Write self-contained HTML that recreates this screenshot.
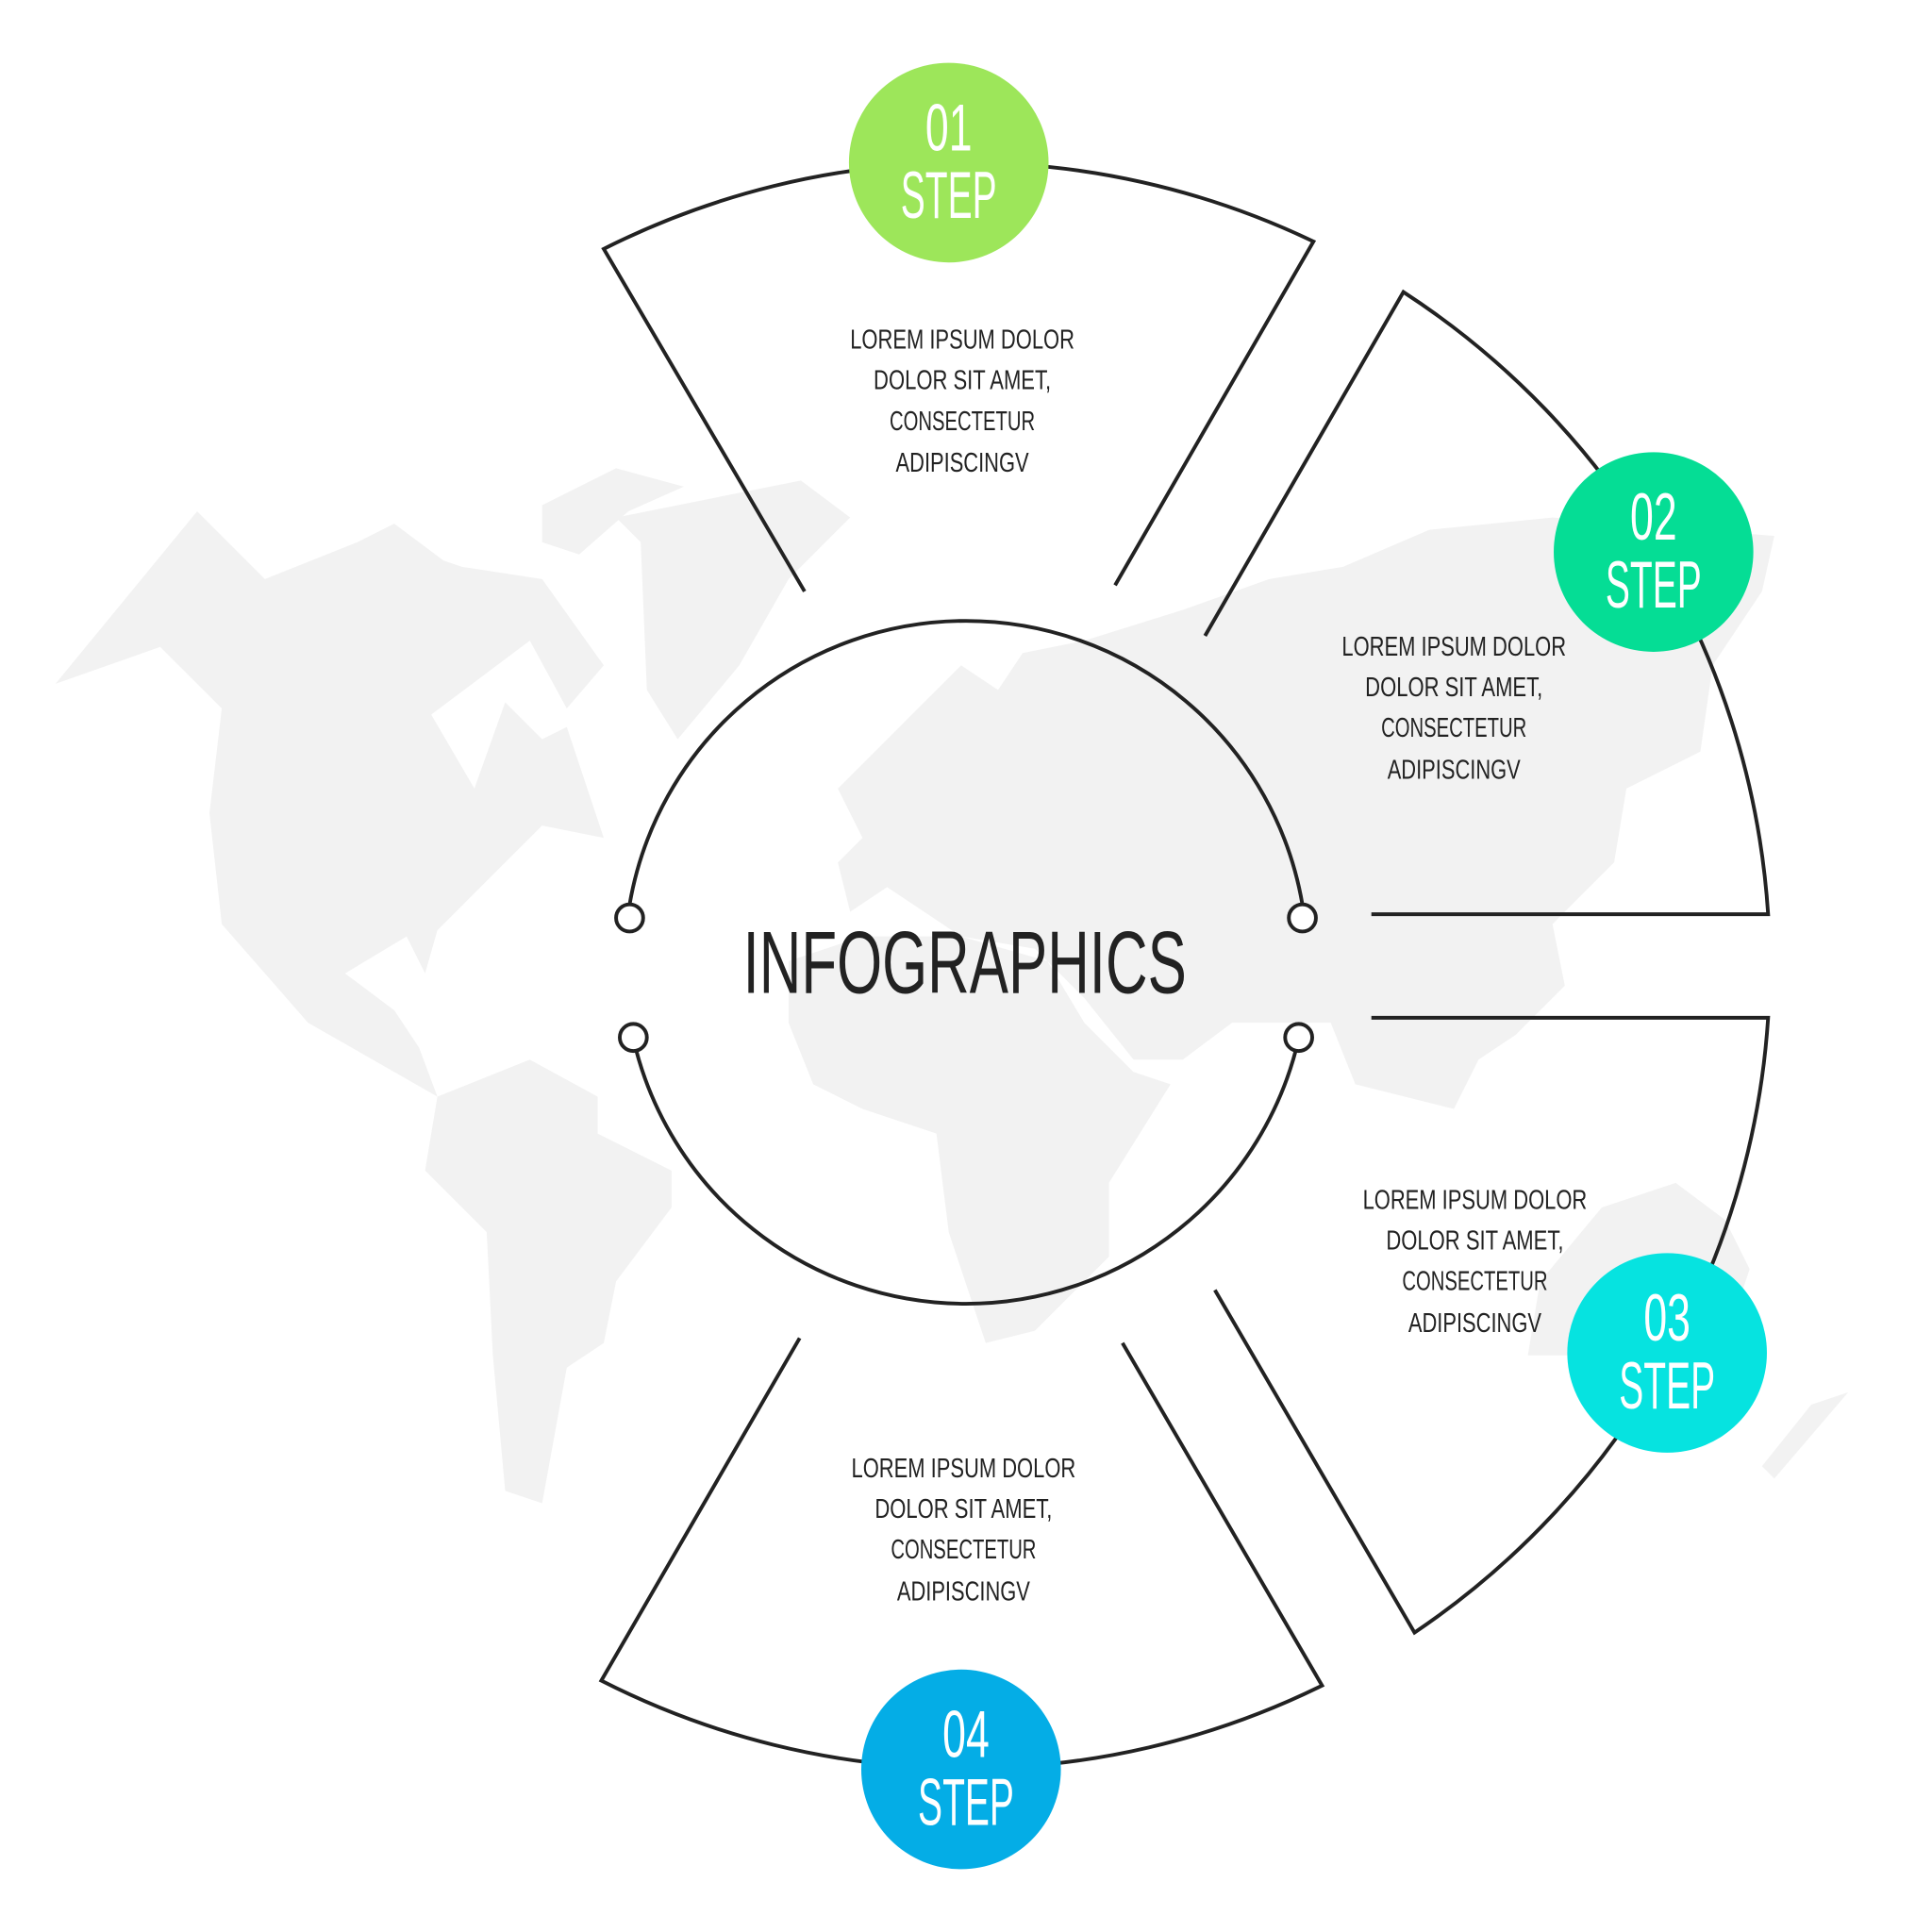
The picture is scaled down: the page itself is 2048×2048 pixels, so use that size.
<!DOCTYPE html>
<html><head><meta charset="utf-8"><style>
html,body{margin:0;padding:0;background:#fff;}
svg{display:block;}
.t{font-family:"Liberation Sans",sans-serif;font-size:22px;fill:#222;text-anchor:middle;}
.s{font-family:"Liberation Sans",sans-serif;font-size:54px;fill:#fff;text-anchor:middle;}
</style></head><body>
<svg width="2048" height="2048" viewBox="0 0 1568 1568" xmlns="http://www.w3.org/2000/svg">
<rect width="1568" height="1568" fill="#fff"/>
<g fill="#f2f2f2">
<polygon points="45,555 160,415 215,470 290,440 320,425 360,455 375,460 440,470 490,540 460,575 430,520 350,580 385,640 410,570 440,600 460,590 490,680 440,670 355,755 345,790 330,760 280,790 320,820 340,850 355,890 250,830 180,750 170,660 180,575 130,525"/>
<polygon points="440,410 500,380 555,395 510,415 470,450 440,440"/>
<polygon points="500,420 650,390 690,420 640,470 600,540 550,600 525,560 520,440"/>
<polygon points="355,890 430,860 485,890 485,920 545,950 545,980 500,1040 490,1090 460,1110 440,1220 410,1210 400,1100 395,1000 345,950"/>
<polygon points="680,640 740,580 780,540 810,560 830,530 880,520 960,495 1030,470 1090,460 1160,430 1260,420 1440,435 1430,480 1390,540 1380,610 1320,640 1310,700 1260,750 1270,800 1230,840 1200,860 1180,900 1100,880 1080,830 1000,830 960,860 920,860 880,810 840,770 780,760 720,720 690,740 680,700 700,680"/>
<polygon points="640,780 700,760 780,760 850,780 880,830 920,870 950,880 900,960 900,1020 840,1080 800,1090 770,1000 760,920 700,900 660,880 640,830"/>
<polygon points="1250,1040 1300,980 1360,960 1400,990 1420,1030 1400,1090 1350,1110 1290,1100 1240,1100"/>
<polygon points="1470,1140 1500,1130 1440,1200 1430,1190"/>
</g>
<g fill="none" stroke="#222" stroke-width="3">
<path d="M653,480 L490,202 A653,653 0 0 1 1066,196 L905,475"/>
<path d="M978,516 L1139,237 A653,653 0 0 1 1435,742 L1113,742"/>
<path d="M1113,826 L1435,826 A653,653 0 0 1 1148,1325 L986,1047"/>
<path d="M649,1086 L488,1364 A653,653 0 0 0 1073,1368 L911,1090"/>
<path d="M511,734 A277,277 0 0 1 1057,734"/>
<path d="M514,843 A277,277 0 0 0 1054,843"/>
</g>
<g fill="#fff" stroke="#222" stroke-width="3">
<circle cx="511" cy="745" r="11"/><circle cx="1057" cy="745" r="11"/>
<circle cx="514" cy="842" r="11"/><circle cx="1054" cy="842" r="11"/>
</g>
<text x="783" y="806" textLength="360" lengthAdjust="spacingAndGlyphs" style="font-family:'Liberation Sans',sans-serif;font-size:72px;fill:#222;text-anchor:middle;">INFOGRAPHICS</text>
<circle cx="770" cy="132" r="81" fill="#9de65a"/>
<circle cx="1342" cy="448" r="81" fill="#05dd95"/>
<circle cx="1353" cy="1098" r="81" fill="#06e3e0"/>
<circle cx="780" cy="1436" r="81" fill="#04ade6"/>
<text class="s" x="770" y="122" textLength="38" lengthAdjust="spacingAndGlyphs">01</text><text class="s" x="770" y="177" textLength="78" lengthAdjust="spacingAndGlyphs">STEP</text>
<text class="s" x="1342" y="438" textLength="38" lengthAdjust="spacingAndGlyphs">02</text><text class="s" x="1342" y="493" textLength="78" lengthAdjust="spacingAndGlyphs">STEP</text>
<text class="s" x="1353" y="1088" textLength="38" lengthAdjust="spacingAndGlyphs">03</text><text class="s" x="1353" y="1143" textLength="78" lengthAdjust="spacingAndGlyphs">STEP</text>
<text class="s" x="784" y="1426" textLength="38" lengthAdjust="spacingAndGlyphs">04</text><text class="s" x="784" y="1481" textLength="78" lengthAdjust="spacingAndGlyphs">STEP</text>

<text class="t" x="781" y="283" textLength="182" lengthAdjust="spacingAndGlyphs">LOREM IPSUM DOLOR</text><text class="t" x="781" y="316" textLength="144" lengthAdjust="spacingAndGlyphs">DOLOR SIT AMET,</text><text class="t" x="781" y="349" textLength="118" lengthAdjust="spacingAndGlyphs">CONSECTETUR</text><text class="t" x="781" y="383" textLength="108" lengthAdjust="spacingAndGlyphs">ADIPISCINGV</text>
<text class="t" x="1180" y="532" textLength="182" lengthAdjust="spacingAndGlyphs">LOREM IPSUM DOLOR</text><text class="t" x="1180" y="565" textLength="144" lengthAdjust="spacingAndGlyphs">DOLOR SIT AMET,</text><text class="t" x="1180" y="598" textLength="118" lengthAdjust="spacingAndGlyphs">CONSECTETUR</text><text class="t" x="1180" y="632" textLength="108" lengthAdjust="spacingAndGlyphs">ADIPISCINGV</text>
<text class="t" x="1197" y="981" textLength="182" lengthAdjust="spacingAndGlyphs">LOREM IPSUM DOLOR</text><text class="t" x="1197" y="1014" textLength="144" lengthAdjust="spacingAndGlyphs">DOLOR SIT AMET,</text><text class="t" x="1197" y="1047" textLength="118" lengthAdjust="spacingAndGlyphs">CONSECTETUR</text><text class="t" x="1197" y="1081" textLength="108" lengthAdjust="spacingAndGlyphs">ADIPISCINGV</text>
<text class="t" x="782" y="1199" textLength="182" lengthAdjust="spacingAndGlyphs">LOREM IPSUM DOLOR</text><text class="t" x="782" y="1232" textLength="144" lengthAdjust="spacingAndGlyphs">DOLOR SIT AMET,</text><text class="t" x="782" y="1265" textLength="118" lengthAdjust="spacingAndGlyphs">CONSECTETUR</text><text class="t" x="782" y="1299" textLength="108" lengthAdjust="spacingAndGlyphs">ADIPISCINGV</text>
</svg>
</body></html>
